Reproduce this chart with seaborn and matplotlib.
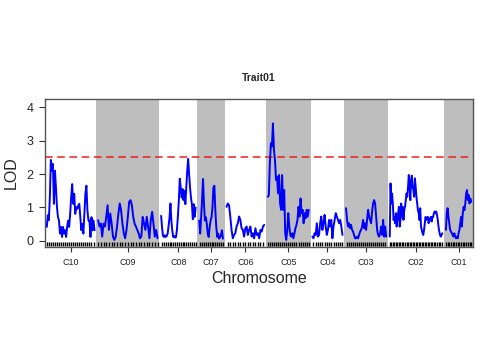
import numpy as np
import pandas as pd
import matplotlib
matplotlib.use("Agg")
import matplotlib.pyplot as plt
import seaborn as sns

# chromosome order as drawn, lengths (cM) and LOD values
chroms = ['C10', 'C09', 'C08', 'C07', 'C06', 'C05', 'C04', 'C03', 'C02', 'C01']
chr_len = [119, 148, 86, 59, 94, 102, 75, 100, 131, 63]
gap = 9
threshold = 2.5

lod_c10 = [0.42, 0.77, 0.62, 1.31, 2.42, 2.10, 2.30, 1.11, 2.10, 1.60, 1.01, 0.71, 0.61, 0.22, 0.42, 0.12,
           0.42, 0.22, 0.32, 0.12, 0.42, 0.61, 0.42, 0.81, 1.31, 1.70, 1.11, 1.41, 0.81, 1.01, 0.96, 1.06,
           1.11, 0.71, 0.32, 0.51, 0.22, 0.81, 1.41, 1.65, 0.91, 0.61, 0.61, 0.12, 0.71, 0.32, 0.61, 0.32]
lod_c09 = [0.62, 0.43, 0.52, 0.13, 0.52, 0.43, 0.72, 1.07, 0.33, 0.82, 0.52, 0.13, 0.03, 0.13, 0.43, 0.82,
           1.12, 0.92, 0.52, 0.23, 0.08, 0.33, 0.72, 1.17, 1.22, 1.07, 0.72, 0.52, 0.43, 0.33, 0.23, 0.08,
           0.13, 0.72, 0.52, 0.33, 0.72, 0.43, 0.08, 0.62, 0.87, 0.52, 0.13, 0.33, 0.08]
lod_c08 = [0.75, 0.40, 0.15, 0.12, 0.17, 0.12, 0.15, 0.22, 0.45, 0.70, 1.12, 0.60, 0.30, 0.12, 0.15, 0.10,
           0.12, 0.35, 0.75, 1.20, 1.86, 1.60, 1.30, 1.55, 1.22, 1.50, 1.10, 1.60, 2.10, 2.45, 2.00, 1.60,
           1.30, 1.10, 0.65, 1.10, 0.72, 1.00]
lod_c07 = [0.61, 0.22, 0.71, 1.21, 1.85, 1.11, 0.61, 0.71, 0.51, 0.22, 0.12, 0.42, 0.61, 0.71, 1.01, 1.60,
           1.65, 0.91, 0.42, 0.12, 0.22, 0.07, 0.12, 0.17, 0.32, 0.07]
lod_c06 = [1.02, 1.12, 1.07, 0.73, 0.33, 0.08, 0.18, 0.23, 0.43, 0.53, 0.73, 0.63, 0.38, 0.33, 0.13, 0.38,
           0.43, 0.18, 0.33, 0.43, 0.13, 0.23, 0.08, 0.38, 0.18, 0.23, 0.08, 0.33, 0.28, 0.43, 0.48]
lod_c05 = [1.32, 1.37, 2.32, 2.92, 2.82, 3.51, 2.72, 2.42, 1.82, 1.92, 1.42, 1.97, 1.12, 0.93, 1.97, 0.93,
           1.52, 0.23, 0.03, 0.33, 0.83, 0.43, 0.18, 0.13, 0.23, 0.08, 0.23, 0.38, 0.48, 0.63, 1.02, 0.73,
           1.27, 0.83, 0.93, 0.53, 0.83, 0.68, 0.93, 0.73, 0.93]
lod_c04 = [0.13, 0.08, 0.23, 0.18, 0.53, 0.13, 0.18, 0.53, 0.73, 0.33, 0.53, 0.78, 0.43, 0.18, 0.33, 0.63,
           0.43, 0.63, 0.08, 0.43, 0.63, 0.83, 0.73, 0.63, 0.53, 0.63, 0.43, 0.18]
lod_c03 = [0.98, 0.63, 0.43, 0.53, 0.38, 0.48, 0.33, 0.28, 0.18, 0.08, 0.08, 0.13, 0.08, 0.18, 0.28, 0.33,
           0.43, 0.63, 0.38, 0.53, 0.33, 0.63, 0.93, 0.73, 0.63, 0.53, 0.88, 1.12, 1.22, 1.12, 0.73, 0.33,
           0.18, 0.13, 0.23, 0.43, 0.18, 0.63, 0.13, 0.43, 0.13]
lod_c02 = [0.13, 1.72, 1.12, 1.42, 1.12, 0.63, 0.72, 0.53, 0.83, 0.43, 0.63, 0.83, 1.02, 0.43, 0.63, 1.12,
           0.72, 1.02, 0.63, 0.92, 1.02, 1.22, 1.42, 1.32, 1.62, 1.97, 1.62, 1.22, 1.82, 1.95, 1.62, 1.52,
           1.32, 1.87, 1.62, 1.32, 1.12, 0.92, 0.83, 0.63, 0.98, 0.43, 0.33, 0.23, 0.18, 0.33, 0.53, 0.72,
           0.63, 0.68, 0.72, 0.53, 0.63, 0.68, 0.72, 0.58, 0.72, 0.72, 0.83, 0.88, 0.83, 0.88, 0.78, 0.63,
           0.43, 0.28, 0.18, 0.13, 0.18, 0.23]
lod_c01 = [0.33, 0.83, 0.98, 0.72, 0.53, 0.33, 0.28, 0.23, 0.18, 0.13, 0.23, 0.13, 0.08, 0.13, 0.08, 0.23,
           0.33, 0.53, 0.72, 0.43, 0.83, 1.02, 0.92, 1.12, 1.42, 1.52, 1.22, 1.37, 1.12, 1.27, 1.17]

lods = [lod_c10, lod_c09, lod_c08, lod_c07, lod_c06, lod_c05, lod_c04, lod_c03, lod_c02, lod_c01]

# build long table with genome-wide positions
rows = []
starts = []
cur = gap / 2
for ch, L, vals in zip(chroms, chr_len, lods):
    starts.append(cur)
    pos = np.linspace(cur, cur + L, len(vals))
    for p, v in zip(pos, vals):
        rows.append((ch, p, v))
    cur += L + gap
df = pd.DataFrame(rows, columns=['chr', 'pos', 'lod'])
total = cur - gap / 2

sns.set_style('white')
plt.rcParams['font.family'] = ['Liberation Sans', 'DejaVu Sans']

fig = plt.figure(figsize=(5, 3.6), dpi=100)
ax = fig.add_axes([45 / 500, 1 - 247 / 360, 428 / 500, 148 / 360])

# alternating grey bands
for i, (s, L) in enumerate(zip(starts, chr_len)):
    if i % 2 == 1:
        ax.axvspan(s - gap / 2, s + L + gap / 2, color='#bebebe', lw=0, zorder=0)

sns.lineplot(data=df, x='pos', y='lod', units='chr', estimator=None,
             color='#0000ff', lw=1.4, ax=ax, zorder=3)

# marker rug
rug = df['pos'].values[::2]
ax.vlines(rug, -0.14, -0.04, color='black', lw=1.0, zorder=4)

ax.axhline(threshold, color='#ee1c1c', lw=1.1, ls=(0, (5, 3)), zorder=2)

ax.set_xlim(0, total)
ax.set_ylim(-0.18, 4.24)
ax.set_yticks([0, 1, 2, 3, 4])
mids = [s + L / 2 for s, L in zip(starts, chr_len)]
ax.set_xticks(mids)
ax.set_xticklabels(chroms, fontsize=6.5)
ax.tick_params(axis='y', left=True, length=4, width=0.8, pad=4.3, labelsize=9, color='#333333')
ax.tick_params(axis='x', bottom=True, length=3.6, width=0.8, pad=4, color='#333333')
ax.set_xlabel('')
ax.set_ylabel('')
for sp in ax.spines.values():
    sp.set_color('#555555')
    sp.set_linewidth(1.0)

ax.set_title('Trait01', fontsize=7.5, fontweight='bold', pad=13)
fig.text(259 / 500, 1 - 283 / 360, 'Chromosome', ha='center', va='baseline', fontsize=11.5)
fig.text(11 / 500, 1 - 173 / 360, 'LOD', ha='center', va='center', rotation=90, fontsize=11.5)

fig.savefig('out.png', dpi=100)
